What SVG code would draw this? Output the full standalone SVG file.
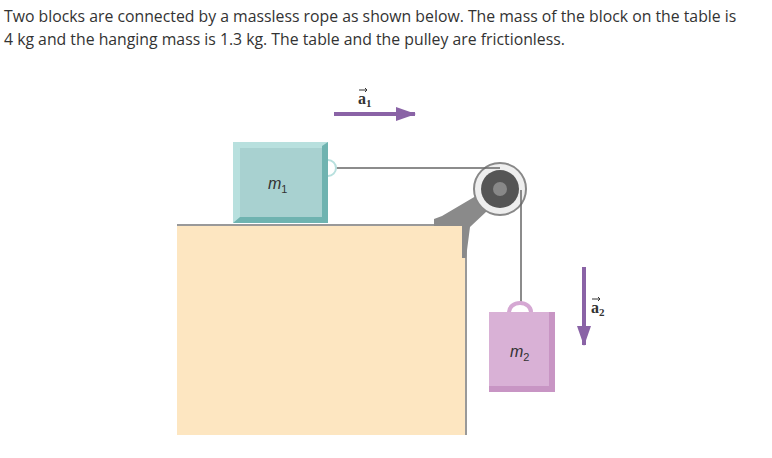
<svg xmlns="http://www.w3.org/2000/svg" width="772" height="458" viewBox="0 0 772 458">
<style>
.t{font-family:"Open Sans",sans-serif;font-size:15.8px;fill:#333}
.m{font-family:"Liberation Sans",sans-serif;font-style:italic;font-size:16px;fill:#333}
.s{font-size:11px;font-style:normal}
.a{font-family:"Liberation Serif",serif;font-weight:bold;font-size:16px;fill:#333}
.rope{stroke:#666;stroke-width:1.5;fill:none}
.vec{stroke:#333;stroke-width:1;fill:none}
</style>
<defs>
<marker id="ah" markerWidth="20" markerHeight="14" refX="19" refY="7" orient="auto" markerUnits="userSpaceOnUse"><path d="M0,0L20,7L0,14z" fill="#8a63a6"/></marker>
</defs>
<rect width="772" height="458" fill="#fff"/>
<text class="t" x="4" y="22">Two blocks are connected by a massless rope as shown below. The mass of the block on the table is</text>
<text class="t" x="4" y="45">4 kg and the hanging mass is 1.3 kg. The table and the pulley are frictionless.</text>
<g id="table">
<rect x="177" y="225" width="289" height="210" fill="#fde6c1"/>
<path d="M177,225H466V435" stroke="#999" stroke-width="2" fill="none"/>
</g>
<g id="pulley">
<path d="M434,219L442,216L498,183L504,195L470,227L466,258L462,258L462,226H434Z" fill="#8a8a8a"/>
<circle cx="500" cy="189" r="26" fill="#eee" stroke="#888" stroke-width="2"/>
<circle cx="500" cy="189" r="19" fill="#555"/>
<circle cx="500" cy="189" r="7" fill="#888"/>
</g>
<g id="connectors">
<path class="rope" d="M336,168H500"/>
<path class="rope" d="M521,190V302"/>
<path d="M334,114H415" stroke="#8a63a6" stroke-width="4" marker-end="url(#ah)"/>
<path d="M584,267V345" stroke="#8a63a6" stroke-width="4" marker-end="url(#ah)"/>
</g>
<g id="m1">
<rect x="233" y="142" width="95" height="81" fill="#b8e0de"/>
<path d="M322,146L328,142V223H233L240,217H322Z" fill="#6fb3b0"/>
<rect x="240" y="148" width="82" height="69" fill="#a8d1d0"/>
<path d="M328,160a8,8 0 0 1 0,16" fill="none" stroke="#b8e0de" stroke-width="2"/>
<text class="m" x="268" y="189">m<tspan class="s" dy="4">1</tspan></text>
</g>
<g id="m2">
<path d="M509,312a11,9 0 0 1 22,0" fill="none" stroke="#d5a8d3" stroke-width="4"/>
<rect x="489" y="312" width="66" height="80" fill="#c895c4"/>
<rect x="489" y="312" width="60" height="74" fill="#d9b1d6"/>
<text class="m" x="510" y="357">m<tspan class="s" dy="4">2</tspan></text>
</g>
<g id="a1">
<text class="a" x="358" y="104">a<tspan class="s" dy="3">1</tspan></text>
<path class="vec" d="M359,90H367M365,88L367,90L365,92"/>
</g>
<g id="a2">
<text class="a" x="591" y="313">a<tspan class="s" dy="3">2</tspan></text>
<path class="vec" d="M592,299H600M598,297L600,299L598,301"/>
</g>
</svg>
